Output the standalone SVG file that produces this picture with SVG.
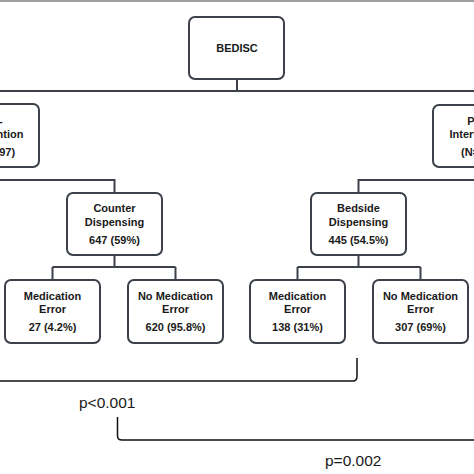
<svg xmlns="http://www.w3.org/2000/svg" width="474" height="474" viewBox="0 0 474 474">
<style>
.box{fill:#fff;stroke:#3c4049;stroke-width:2}
.conn{fill:none;stroke:#3c4049;stroke-width:2}
.br{fill:none;stroke:#111;stroke-width:1.5}
.t{font-family:"Liberation Sans",Arial,sans-serif;font-weight:bold;font-size:11px;fill:#1a1a1a;text-anchor:middle}
.p{font-family:"Liberation Sans",Arial,sans-serif;font-size:15.5px;fill:#1a1a1a}
</style>
<rect x="0" y="0" width="474" height="2" fill="#a0a0a0"/>
<g id="connectors">
<path class="conn" d="M237 79 V91 M-8 91 H481 M-8 91 V104 M481 91 V105"/>
<path class="conn" d="M-8 167 V180 H114.5 V193"/>
<path class="conn" d="M481 167 V180 H358.5 V193"/>
<path class="conn" d="M114.5 255 V267 M52.5 267 H175.5 M52.5 267 V280 M175.5 267 V280"/>
<path class="conn" d="M358.5 255 V267 M297.5 267 H420.5 M297.5 267 V280 M420.5 267 V280"/>
<path class="br" d="M-10 381 H353 Q357 381 357 376 V358"/>
<path class="br" d="M117.5 417 V436 Q117.5 440 122 440 H480"/>
</g>
<g id="bedisc">
<rect class="box" x="189" y="17" width="95" height="62" rx="6"/>
<text class="t" x="237" y="52">BEDISC</text>
</g>
<g id="pre">
<rect class="box" x="-56" y="104" width="95" height="63" rx="6"/>
<text class="t" x="-8" y="125">Pre-</text>
<text class="t" x="-8" y="138">Intervention</text>
<text class="t" x="-8" y="156">(N=1097)</text>
</g>
<g id="post">
<rect class="box" x="433" y="105" width="95" height="62" rx="6"/>
<text class="t" x="481" y="125">Post-</text>
<text class="t" x="481" y="138">Intervention</text>
<text class="t" x="481" y="156">(N=816)</text>
</g>
<g id="counter">
<rect class="box" x="67" y="193" width="95" height="62" rx="6"/>
<text class="t" x="114.5" y="212">Counter</text>
<text class="t" x="114.5" y="226">Dispensing</text>
<text class="t" x="114.5" y="244">647 (59%)</text>
</g>
<g id="bedside">
<rect class="box" x="311" y="193" width="95" height="62" rx="6"/>
<text class="t" x="358.5" y="212">Bedside</text>
<text class="t" x="358.5" y="226">Dispensing</text>
<text class="t" x="358.5" y="244">445 (54.5%)</text>
</g>
<g id="c-err">
<rect class="box" x="5" y="280" width="95" height="63" rx="6"/>
<text class="t" x="52.5" y="300">Medication</text>
<text class="t" x="52.5" y="313">Error</text>
<text class="t" x="52.5" y="331">27 (4.2%)</text>
</g>
<g id="c-noerr">
<rect class="box" x="128" y="280" width="95" height="63" rx="6"/>
<text class="t" x="175.5" y="300">No Medication</text>
<text class="t" x="175.5" y="313">Error</text>
<text class="t" x="175.5" y="331">620 (95.8%)</text>
</g>
<g id="b-err">
<rect class="box" x="250" y="280" width="95" height="63" rx="6"/>
<text class="t" x="297.5" y="300">Medication</text>
<text class="t" x="297.5" y="313">Error</text>
<text class="t" x="297.5" y="331">138 (31%)</text>
</g>
<g id="b-noerr">
<rect class="box" x="373" y="280" width="95" height="63" rx="6"/>
<text class="t" x="420.5" y="300">No Medication</text>
<text class="t" x="420.5" y="313">Error</text>
<text class="t" x="420.5" y="331">307 (69%)</text>
</g>
<text class="p" x="79" y="408">p&lt;0.001</text>
<text class="p" x="325" y="466">p=0.002</text>
</svg>
